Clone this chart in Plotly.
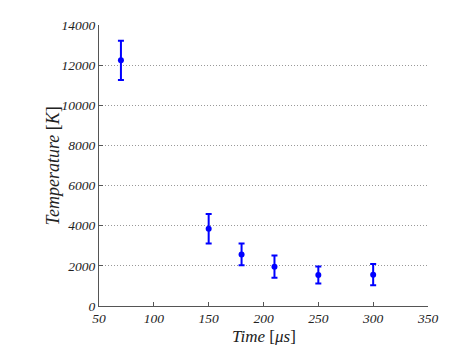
import plotly.graph_objects as go

time_us = [70, 150, 180, 210, 250, 300]
temperature_K = [12240, 3850, 2570, 1960, 1545, 1560]
temp_err = [980, 730, 540, 550, 420, 530]

x_ticks = [50, 100, 150, 200, 250, 300, 350]
y_ticks = [0, 2000, 4000, 6000, 8000, 10000, 12000, 14000]

font_family = "Liberation Serif"

fig = go.Figure()
fig.add_trace(go.Scatter(
    x=time_us, y=temperature_K, mode="markers",
    marker=dict(color="#0000ff", size=6),
    error_y=dict(type="data", array=temp_err, color="#0000ff", thickness=2, width=3),
    showlegend=False,
))

axis_common = dict(
    showline=True, linecolor="#555555", linewidth=1,
    ticks="inside", ticklen=4, tickcolor="#555555",
    tickfont=dict(family=font_family, size=13.5, color="#222222"),
    zeroline=False, mirror=False, automargin=False,
)

fig.update_layout(
    width=474, height=345,
    margin=dict(l=99, r=46, t=25, b=39),
    plot_bgcolor="white", paper_bgcolor="white",
    xaxis=dict(range=[50, 350], tickvals=x_ticks,
               ticktext=[f"<i>{v}</i>" for v in x_ticks], showgrid=False,
               **axis_common),
    yaxis=dict(range=[0, 14000], tickvals=y_ticks,
               ticktext=[f"<i>{v}</i>" for v in y_ticks], showgrid=True,
               gridcolor="#999999", griddash="1px,2px", gridwidth=1,
               **axis_common),
    annotations=[
        dict(text="<i>Time</i> [<i>μs</i>]", xref="paper", yref="paper",
             x=0.5, y=-0.108, xanchor="center", yanchor="middle", showarrow=False,
             font=dict(family=font_family, size=17, color="#222222")),
        dict(text="<i>Temperature</i> [<i>K</i>]", xref="paper", yref="paper",
             x=-0.14, y=0.5, xanchor="center", yanchor="middle", showarrow=False,
             textangle=-90,
             font=dict(family=font_family, size=18, color="#222222")),
    ],
)

fig.write_html("out.html")
